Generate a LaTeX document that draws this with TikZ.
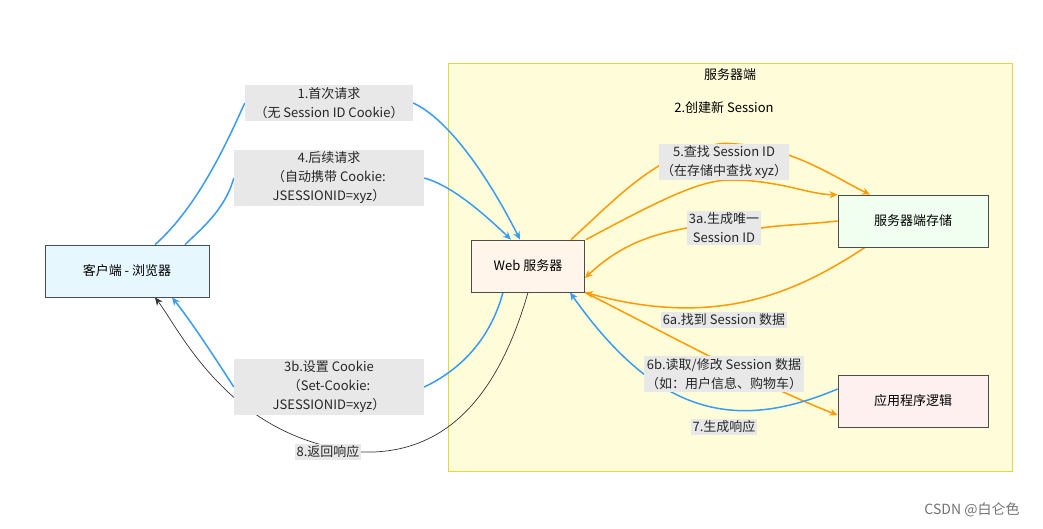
\documentclass[tikz,border=0pt]{standalone}
\usepackage{fontspec}
\setmainfont{Noto Sans CJK SC}
\usetikzlibrary{arrows.meta}
\definecolor{bl}{HTML}{3A9BF0}
\definecolor{or}{HTML}{FF9A00}
\definecolor{lb}{HTML}{E8E8E8}
\pgfdeclarelayer{bgl}\pgfdeclarelayer{edg}
\pgfsetlayers{bgl,edg,main}
\begin{document}
\begin{tikzpicture}[x=1pt,y=-1pt,font=\fontsize{13}{19}\selectfont,
 box/.style={draw=black!70,line width=0.8pt,minimum height=52pt,align=center,inner sep=0},
 lab/.style={fill=lb,align=center,inner sep=2pt,text=black!85},
 be/.style={draw=bl,line width=1.5pt,-{Stealth[length=8pt,width=7pt]}},
 bn/.style={draw=bl,line width=1.5pt},
 oe/.style={draw=or,line width=1.5pt,-{Stealth[length=8pt,width=7pt]}},
 on/.style={draw=or,line width=1.5pt}]
\useasboundingbox (0,0) rectangle (1043,528);
\begin{pgfonlayer}{bgl}
\fill[white] (0,0) rectangle (1043,528);
\draw[fill=yellow!15!white,draw=yellow!60!olive!70] (448,63) rectangle (1012,471);
\end{pgfonlayer}
\node (cl) at (730,75) {服务器端};
\node[box,fill=cyan!10,minimum width=164pt] (c) at (127,271) {客户端 - 浏览器};
\node[box,fill=orange!8,minimum width=113pt] (w) at (528,266) {Web 服务器};
\node[box,fill=green!6,minimum width=150pt] (s) at (913,221) {服务器端存储};
\node[box,fill=red!6,minimum width=150pt] (a) at (913,401) {应用程序逻辑};
\node[lab,minimum width=168pt] (l1) at (329,103) {1.首次请求\\（无 Session ID Cookie）};
\node[lab,minimum width=190pt] (l4) at (329,178) {4.后续请求\\（自动携带 Cookie:\\JSESSIONID=xyz）};
\node[lab,minimum width=190pt] (l3b) at (329,387) {3b.设置 Cookie\\（Set-Cookie:\\JSESSIONID=xyz）};
\node[lab] (l8) at (328,452) {8.返回响应};
\node (l2) at (724,108) {2.创建新 Session};
\node[lab] (l5) at (724,162) {5.查找 Session ID\\（在存储中查找 xyz）};
\node[lab] (l3a) at (724,228) {3a.生成唯一\\Session ID};
\node[lab] (l6a) at (724,320) {6a.找到 Session 数据};
\node[lab] (l6b) at (724,374) {6b.读取/修改 Session 数据\\（如：用户信息、购物车）};
\node[lab] (l7) at (724,427) {7.生成响应};
\node[text=black!55,font=\fontsize{14}{16}\selectfont] (wm) at (972,510) {CSDN @白仑色};
\begin{pgfonlayer}{edg}
\draw[bn] ([xshift=28pt]c.north) .. controls (200,205) and (230,135) .. (l1.west);
\draw[be] (l1.east) .. controls (450,120) and (490,180) .. ([xshift=-8pt]w.north);
\draw[bn] ([xshift=58pt]c.north) .. controls (200,230) and (225,210) .. (l4.west);
\draw[be] (l4.east) .. controls (450,185) and (480,210) .. ([xshift=-17pt]w.north);
\draw[bn] ([xshift=-25pt]w.south) .. controls (490,340) and (460,370) .. (l3b.east);
\draw[be] (l3b.west) .. controls (210,350) and (190,320) .. ([xshift=45pt]c.south);
\draw[black!80,line width=0.7pt,-{Stealth[length=8pt,width=7pt]}] (w.south) .. controls (500,390) and (450,455) .. (l8.east) .. controls (230,440) and (180,330) .. ([xshift=28pt]c.south);
\draw[oe] ([xshift=43pt]w.north) .. controls (620,195) and (660,150) .. (l5.north) .. controls (790,145) and (830,175) .. ([xshift=-43pt]s.north);
\draw[oe] ([xshift=58pt]w.north) .. controls (660,200) and (700,180) .. (730,180) .. controls (780,180) and (810,195) .. (s.north west);
\draw[oe] (s.west) .. controls (800,225) and (780,225) .. (l3a.east) -- (l3a.west) .. controls (650,235) and (620,245) .. ([yshift=-12pt]w.east);
\draw[oe] ([xshift=-48pt]s.south) .. controls (800,290) and (720,330) .. (w.south east);
\draw[oe] (w.south east) .. controls (650,325) and (760,385) .. ([yshift=-14pt]a.west);
\draw[be] ([yshift=12pt]a.west) .. controls (740,430) and (660,420) .. ([xshift=42pt]w.south);
\end{pgfonlayer}
\end{tikzpicture}
\end{document}
